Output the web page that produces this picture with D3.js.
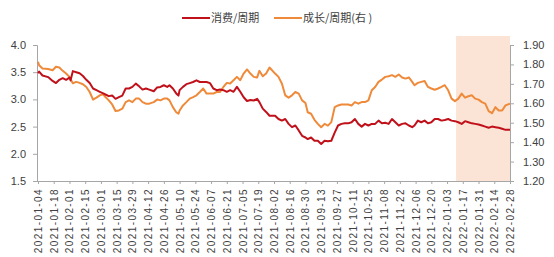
<!DOCTYPE html>
<meta charset="utf-8">
<html>
<head>
<title>消费/周期 与 成长/周期</title>
<style>
  body { margin: 0; background: #fff; }
  text { font-family: "Liberation Sans", Arial, sans-serif; fill: #404040; }
</style>
</head>
<body>
<script src="https://cdnjs.cloudflare.com/ajax/libs/d3/7.8.5/d3.min.js"></script>
<script>
// 日期（约每3天取一个点，从图中读出）
var dates = [
  "2021-01-04","2021-01-05","2021-01-08","2021-01-13","2021-01-17","2021-01-20","2021-01-23","2021-01-26","2021-01-29",
  "2021-02-01","2021-02-02","2021-02-04","2021-02-07","2021-02-10","2021-02-13","2021-02-16","2021-02-19","2021-02-22","2021-02-25","2021-02-28",
  "2021-03-03","2021-03-05","2021-03-08","2021-03-11","2021-03-14","2021-03-17","2021-03-20","2021-03-23","2021-03-26","2021-03-29",
  "2021-04-01","2021-04-04","2021-04-07","2021-04-10","2021-04-13","2021-04-17","2021-04-20","2021-04-23","2021-04-26","2021-04-29",
  "2021-05-01","2021-05-04","2021-05-07","2021-05-09","2021-05-10","2021-05-13","2021-05-16","2021-05-19","2021-05-22","2021-05-25","2021-05-28","2021-05-31",
  "2021-06-03","2021-06-06","2021-06-09","2021-06-12","2021-06-15","2021-06-18","2021-06-21","2021-06-24","2021-06-27","2021-06-30",
  "2021-07-03","2021-07-06","2021-07-09","2021-07-12","2021-07-15","2021-07-18","2021-07-20","2021-07-23","2021-07-26","2021-07-29",
  "2021-08-03","2021-08-06","2021-08-09","2021-08-12","2021-08-15","2021-08-18","2021-08-21","2021-08-24","2021-08-27","2021-08-30",
  "2021-09-01","2021-09-04","2021-09-07","2021-09-10","2021-09-13","2021-09-16","2021-09-19","2021-09-22","2021-09-25","2021-09-28",
  "2021-10-01","2021-10-04","2021-10-07","2021-10-10","2021-10-13","2021-10-16","2021-10-19","2021-10-22","2021-10-25","2021-10-28","2021-10-31",
  "2021-11-03","2021-11-06","2021-11-09","2021-11-12","2021-11-15","2021-11-18","2021-11-21","2021-11-24","2021-11-27","2021-11-30",
  "2021-12-03","2021-12-05","2021-12-08","2021-12-11","2021-12-14","2021-12-17","2021-12-20","2021-12-23","2021-12-26","2021-12-29",
  "2022-01-01","2022-01-04","2022-01-07","2022-01-10","2022-01-13","2022-01-16","2022-01-19","2022-01-22","2022-01-25","2022-01-28","2022-01-31",
  "2022-02-03","2022-02-06","2022-02-09","2022-02-12","2022-02-15","2022-02-18","2022-02-21","2022-02-24","2022-02-28"
];

// 消费/周期（左轴）
var consume = [
  3.48,3.51,3.44,3.41,3.34,3.30,3.36,3.39,3.36,
  3.40,3.35,3.52,3.50,3.48,3.43,3.36,3.30,3.20,3.17,3.14,
  3.11,3.09,3.06,3.07,3.01,3.04,3.07,3.20,3.20,3.23,
  3.29,3.24,3.18,3.20,3.18,3.15,3.22,3.23,3.26,3.23,
  3.26,3.20,3.11,3.07,3.17,3.23,3.28,3.30,3.32,3.35,3.32,3.32,
  3.32,3.30,3.20,3.17,3.18,3.17,3.14,3.17,3.14,3.23,
  3.14,3.04,2.97,2.99,2.98,3.01,2.95,2.83,2.77,2.70,
  2.70,2.64,2.61,2.64,2.55,2.49,2.52,2.43,2.33,2.30,
  2.27,2.30,2.24,2.24,2.18,2.24,2.23,2.24,2.39,2.52,
  2.55,2.56,2.56,2.58,2.64,2.55,2.50,2.55,2.52,2.55,2.55,
  2.61,2.56,2.57,2.55,2.64,2.58,2.52,2.55,2.56,2.52,
  2.49,2.52,2.61,2.58,2.61,2.56,2.58,2.64,2.64,2.61,
  2.62,2.64,2.61,2.60,2.58,2.55,2.60,2.58,2.56,2.55,2.54,
  2.52,2.50,2.48,2.50,2.49,2.48,2.46,2.44,2.44
];

// 成长/周期（右轴）
var growth = [
  1.813,1.796,1.779,1.776,1.770,1.788,1.784,1.767,1.753,
  1.736,1.724,1.703,1.710,1.705,1.698,1.684,1.658,1.619,1.629,1.641,
  1.646,1.632,1.615,1.594,1.560,1.563,1.572,1.606,1.615,1.606,
  1.624,1.624,1.606,1.598,1.598,1.606,1.619,1.615,1.624,1.624,
  1.615,1.580,1.554,1.546,1.563,1.589,1.606,1.624,1.632,1.641,1.658,1.676,
  1.650,1.650,1.650,1.658,1.658,1.684,1.705,1.702,1.719,1.736,
  1.719,1.753,1.774,1.753,1.736,1.733,1.767,1.739,1.753,1.784,
  1.753,1.736,1.702,1.641,1.629,1.641,1.658,1.650,1.615,1.601,
  1.554,1.546,1.515,1.494,1.477,1.494,1.485,1.503,1.580,1.589,
  1.594,1.594,1.594,1.589,1.606,1.598,1.606,1.606,1.615,1.667,1.684,
  1.710,1.722,1.736,1.739,1.745,1.736,1.748,1.733,1.727,1.733,
  1.710,1.693,1.705,1.710,1.715,1.684,1.676,1.670,1.676,1.684,
  1.693,1.667,1.624,1.611,1.624,1.650,1.629,1.636,1.641,1.624,1.619,
  1.606,1.598,1.560,1.549,1.580,1.563,1.563,1.589,1.598
];

// 坐标轴刻度
var leftTicks = [1.5, 2.0, 2.5, 3.0, 3.5, 4.0];
var rightTicks = [1.2, 1.3, 1.4, 1.5, 1.6, 1.7, 1.8, 1.9];
var xTickLabels = [
  "2021-01-04","2021-01-18","2021-02-01","2021-02-15","2021-03-01","2021-03-15","2021-03-29","2021-04-12",
  "2021-04-26","2021-05-10","2021-05-24","2021-06-07","2021-06-21","2021-07-05","2021-07-19","2021-08-02",
  "2021-08-16","2021-08-30","2021-09-13","2021-09-27","2021-10-11","2021-10-25","2021-11-08","2021-11-22",
  "2021-12-06","2021-12-20","2022-01-03","2022-01-17","2022-01-31","2022-02-14","2022-02-28"
];
var shade = ["2022-01-11", "2022-02-28"];
var seriesNames = ["消费/周期", "成长/周期(右 )"];

var width = 554, height = 257;
var mLeft = 38, mRight = 510, mTop = 45, mBottom = 181;
var red = "#C0111B", orange = "#EE8A3A", axisColor = "#A6A6A6";

var parse = d3.timeParse("%Y-%m-%d");

var svg = d3.select("body").append("svg")
  .attr("width", width)
  .attr("height", height);

var x = d3.scaleTime()
  .domain([parse(xTickLabels[0]), parse(xTickLabels[xTickLabels.length - 1])])
  .range([mLeft, mRight]);
var yL = d3.scaleLinear().domain([1.5, 4.0]).range([mBottom, mTop]);
var yR = d3.scaleLinear().domain([1.2, 1.9]).range([mBottom, mTop]);

// 阴影区域
svg.append("rect")
  .attr("x", x(parse(shade[0])))
  .attr("y", mTop - 9)
  .attr("width", x(parse(shade[1])) - x(parse(shade[0])))
  .attr("height", mBottom - mTop + 9)
  .attr("fill", "#FBE4D6");

// 左轴
var gL = svg.append("g")
  .attr("transform", "translate(" + (mLeft - 1) + ",0)")
  .call(d3.axisLeft(yL).tickValues(leftTicks).tickFormat(d3.format(".1f")).tickSize(4).tickPadding(7));
// 右轴
var gR = svg.append("g")
  .attr("transform", "translate(" + mRight + ",0)")
  .call(d3.axisRight(yR).tickValues(rightTicks).tickFormat(d3.format(".2f")).tickSize(4).tickPadding(9));
// x轴
var gX = svg.append("g")
  .attr("transform", "translate(0," + mBottom + ")")
  .call(d3.axisBottom(x).tickValues(xTickLabels.map(parse)).tickFormat(d3.timeFormat("%Y-%m-%d")).tickSize(3));

gX.selectAll("text")
  .attr("transform", "rotate(-90)")
  .attr("text-anchor", "end")
  .attr("x", -7)
  .attr("y", 0)
  .attr("dy", "0.35em")
  .style("font-size", "10px")
  .style("letter-spacing", "1.4px");

[gL, gR, gX].forEach(function (g) {
  g.selectAll("path, line").attr("stroke", axisColor);
  g.selectAll("text").attr("fill", "#404040");
  g.attr("font-family", null);
});
gL.selectAll("text").style("font-size", "11px");
gR.selectAll("text").style("font-size", "11px");
gX.select(".domain").attr("d", "M" + (mLeft - 1) + ",0.5H" + mRight);

// 折线
var pts = dates.map(function (d, i) { return { date: parse(d), c: consume[i], g: growth[i] }; });

svg.append("path")
  .datum(pts)
  .attr("fill", "none")
  .attr("stroke", orange)
  .attr("stroke-width", 2)
  .attr("stroke-linejoin", "round")
  .attr("d", d3.line().x(function (d) { return x(d.date); }).y(function (d) { return yR(d.g); }));

svg.append("path")
  .datum(pts)
  .attr("fill", "none")
  .attr("stroke", red)
  .attr("stroke-width", 2)
  .attr("stroke-linejoin", "round")
  .attr("d", d3.line().x(function (d) { return x(d.date); }).y(function (d) { return yL(d.c); }));

// 图例
var legend = svg.append("g");
var items = [
  { name: seriesNames[0], color: red, x: 182 },
  { name: seriesNames[1], color: orange, x: 274 }
];
items.forEach(function (it) {
  legend.append("line")
    .attr("x1", it.x).attr("x2", it.x + 28)
    .attr("y1", 18).attr("y2", 18)
    .attr("stroke", it.color).attr("stroke-width", 2);
  legend.append("text")
    .attr("x", it.x + 29).attr("y", 22)
    .style("font-size", "11px")
    .style("font-family", "'Noto Sans CJK SC', sans-serif")
    .attr("fill", "#333")
    .text(it.name);
});
</script>
</body>
</html>
